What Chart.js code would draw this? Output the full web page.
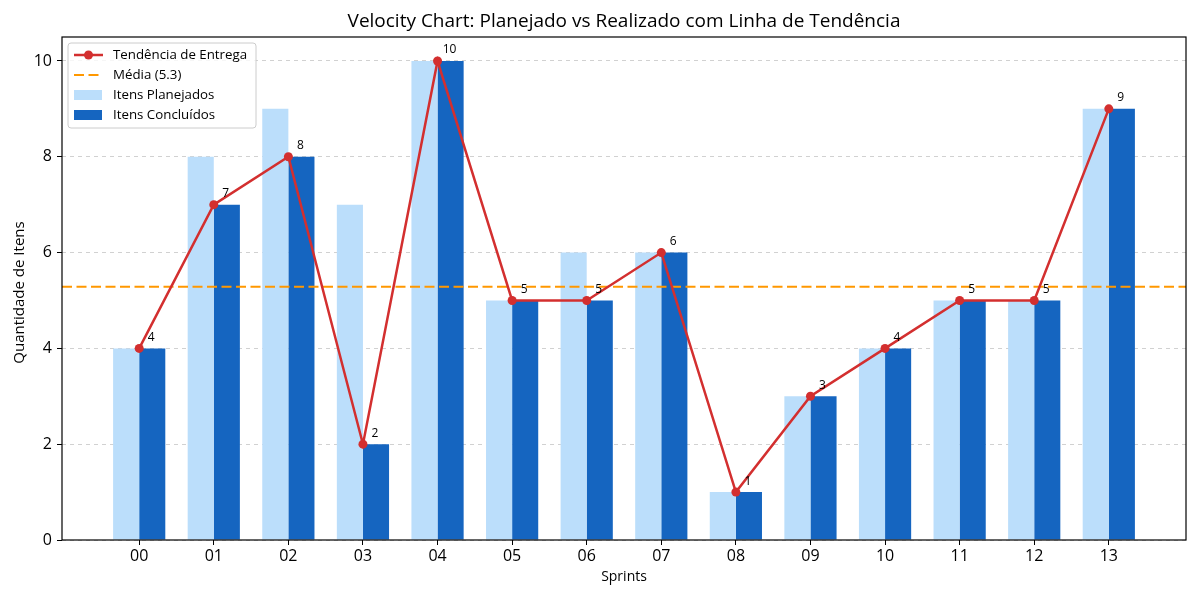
<!DOCTYPE html>
<html lang="pt">
<head>
    <meta charset="UTF-8">
    <title>Velocity Chart</title>
    <script src="https://cdn.jsdelivr.net/npm/chart.js"></script>
    <style>
        html, body { margin: 0; padding: 0; background: #fff; }
        #wrap { width: 1200px; height: 600px; }
    </style>
</head>
<body>
    <div id="wrap"><canvas id="velocityChart" width="1200" height="600"></canvas></div>

    <script>
        // Dados
        const sprints = ['00', '01', '02', '03', '04', '05', '06', '07', '08', '09', '10', '11', '12', '13'];
        const planejados = [4, 8, 9, 7, 10, 5, 6, 6, 1, 3, 4, 5, 5, 9];
        const concluidos = [4, 7, 8, 2, 10, 5, 5, 6, 1, 3, 4, 5, 5, 9];
        const yTicks = [0, 2, 4, 6, 8, 10];
        const media = concluidos.reduce((a, b) => a + b, 0) / concluidos.length;

        const FONT = '"Open Sans", Roboto, sans-serif';
        const RED = '#D32F2F';
        const ORANGE = '#FF9800';
        const LIGHT = '#BBDEFB';
        const DARK = '#1565C0';

        const xMin = -1.035, xMax = sprints.length - 1 + 1.035;

        // frame, title, axis titles, value labels and legend
        const decorations = {
            id: 'decorations',
            afterDraw(chart) {
                const ctx = chart.ctx;
                const a = chart.chartArea;
                ctx.save();

                // frame
                ctx.strokeStyle = '#000';
                ctx.lineWidth = 1.2;
                ctx.strokeRect(a.left, a.top, a.right - a.left, a.bottom - a.top);

                // title
                ctx.fillStyle = '#000';
                ctx.font = '19px ' + FONT;
                ctx.textAlign = 'center';
                ctx.textBaseline = 'middle';
                ctx.fillText('Velocity Chart: Planejado vs Realizado com Linha de Tendência', (a.left + a.right) / 2, 22);

                // axis titles
                ctx.font = '14px ' + FONT;
                ctx.fillText('Sprints', (a.left + a.right) / 2, 577);
                ctx.font = '15px ' + FONT;
                ctx.save();
                ctx.translate(20, (a.top + a.bottom) / 2 + 4);
                ctx.rotate(-Math.PI / 2);
                ctx.fillText('Quantidade de Itens', 0, 0);
                ctx.restore();

                // value labels over the trend points
                const meta = chart.getDatasetMeta(0);
                ctx.font = '12px ' + FONT;
                meta.data.forEach((pt, i) => {
                    ctx.fillText(String(concluidos[i]), pt.x + 12, pt.y - 11);
                });

                // legend
                const lx = 68, ly = 43, lw = 188, lh = 85;
                ctx.fillStyle = 'rgba(255,255,255,0.8)';
                ctx.strokeStyle = '#cccccc';
                ctx.lineWidth = 1;
                ctx.beginPath();
                ctx.roundRect(lx, ly, lw, lh, 3);
                ctx.fill();
                ctx.stroke();

                const rows = [55, 75, 95, 115];
                ctx.font = '13.3px ' + FONT;
                ctx.textAlign = 'left';

                // Tendência
                ctx.strokeStyle = RED;
                ctx.lineWidth = 2.5;
                ctx.beginPath();
                ctx.moveTo(74, rows[0]); ctx.lineTo(103, rows[0]);
                ctx.stroke();
                ctx.fillStyle = RED;
                ctx.beginPath();
                ctx.arc(88.5, rows[0], 4.5, 0, Math.PI * 2);
                ctx.fill();

                // Média
                ctx.strokeStyle = ORANGE;
                ctx.lineWidth = 2;
                ctx.setLineDash([10, 4.5]);
                ctx.beginPath();
                ctx.moveTo(74, rows[1]); ctx.lineTo(103, rows[1]);
                ctx.stroke();
                ctx.setLineDash([]);

                ctx.fillStyle = LIGHT;
                ctx.fillRect(74, rows[2] - 5, 28, 10);
                ctx.fillStyle = DARK;
                ctx.fillRect(74, rows[3] - 5, 28, 10);

                const labels = ['Tendência de Entrega', 'Média (' + media.toFixed(1) + ')', 'Itens Planejados', 'Itens Concluídos'];
                ctx.fillStyle = '#000';
                labels.forEach((t, i) => ctx.fillText(t, 113, rows[i]));

                ctx.restore();
            }
        };

        const ctx = document.getElementById('velocityChart').getContext('2d');
        new Chart(ctx, {
            type: 'bar',
            data: {
                datasets: [
                    {
                        type: 'line',
                        label: 'Tendência de Entrega',
                        data: concluidos.map((v, i) => ({ x: i, y: v })),
                        borderColor: RED,
                        backgroundColor: RED,
                        borderWidth: 2.5,
                        pointRadius: 4.5,
                        pointBackgroundColor: RED,
                        pointBorderWidth: 0,
                        tension: 0,
                        order: 0
                    },
                    {
                        type: 'line',
                        label: 'Média',
                        data: [{ x: xMin, y: media }, { x: xMax, y: media }],
                        borderColor: ORANGE,
                        borderWidth: 2,
                        borderDash: [10, 4.5],
                        pointRadius: 0,
                        order: 1
                    },
                    {
                        label: 'Itens Planejados',
                        data: planejados.map((v, i) => ({ x: i, y: v })),
                        backgroundColor: LIGHT,
                        categoryPercentage: 0.7,
                        barPercentage: 1.0,
                        order: 2
                    },
                    {
                        label: 'Itens Concluídos',
                        data: concluidos.map((v, i) => ({ x: i, y: v })),
                        backgroundColor: DARK,
                        categoryPercentage: 0.7,
                        barPercentage: 1.0,
                        order: 3
                    }
                ]
            },
            options: {
                responsive: false,
                animation: false,
                devicePixelRatio: 1,
                layout: { padding: { top: 37, right: 14, left: 0, bottom: 0 } },
                plugins: {
                    legend: { display: false },
                    tooltip: { enabled: false },
                    title: { display: false }
                },
                scales: {
                    x: {
                        type: 'linear',
                        min: xMin,
                        max: xMax,
                        offset: false,
                        afterBuildTicks: (scale) => { scale.ticks = sprints.map((_, i) => ({ value: i })); },
                        afterFit: (scale) => { scale.height = 60; },
                        ticks: {
                            color: '#000',
                            font: { family: FONT, size: 16 },
                            padding: 2,
                            maxRotation: 0,
                            autoSkip: false,
                            callback: (v) => sprints[v] !== undefined ? sprints[v] : ''
                        },
                        grid: { offset: false, drawOnChartArea: false, tickColor: '#000', tickLength: 5 },
                        border: { display: false }
                    },
                    y: {
                        min: 0,
                        max: 10.5,
                        afterBuildTicks: (scale) => { scale.ticks = yTicks.map(v => ({ value: v })); },
                        afterFit: (scale) => { scale.width = 62; },
                        ticks: {
                            color: '#000',
                            font: { family: FONT, size: 16 },
                            padding: 5
                        },
                        grid: {
                            color: 'rgba(0,0,0,0.18)',
                            borderDash: [4, 4],
                            tickColor: '#000',
                            tickLength: 5,
                            tickBorderDash: []
                        },
                        border: { display: false, dash: [4, 4] }
                    }
                }
            },
            plugins: [decorations]
        });
    </script>
</body>
</html>
